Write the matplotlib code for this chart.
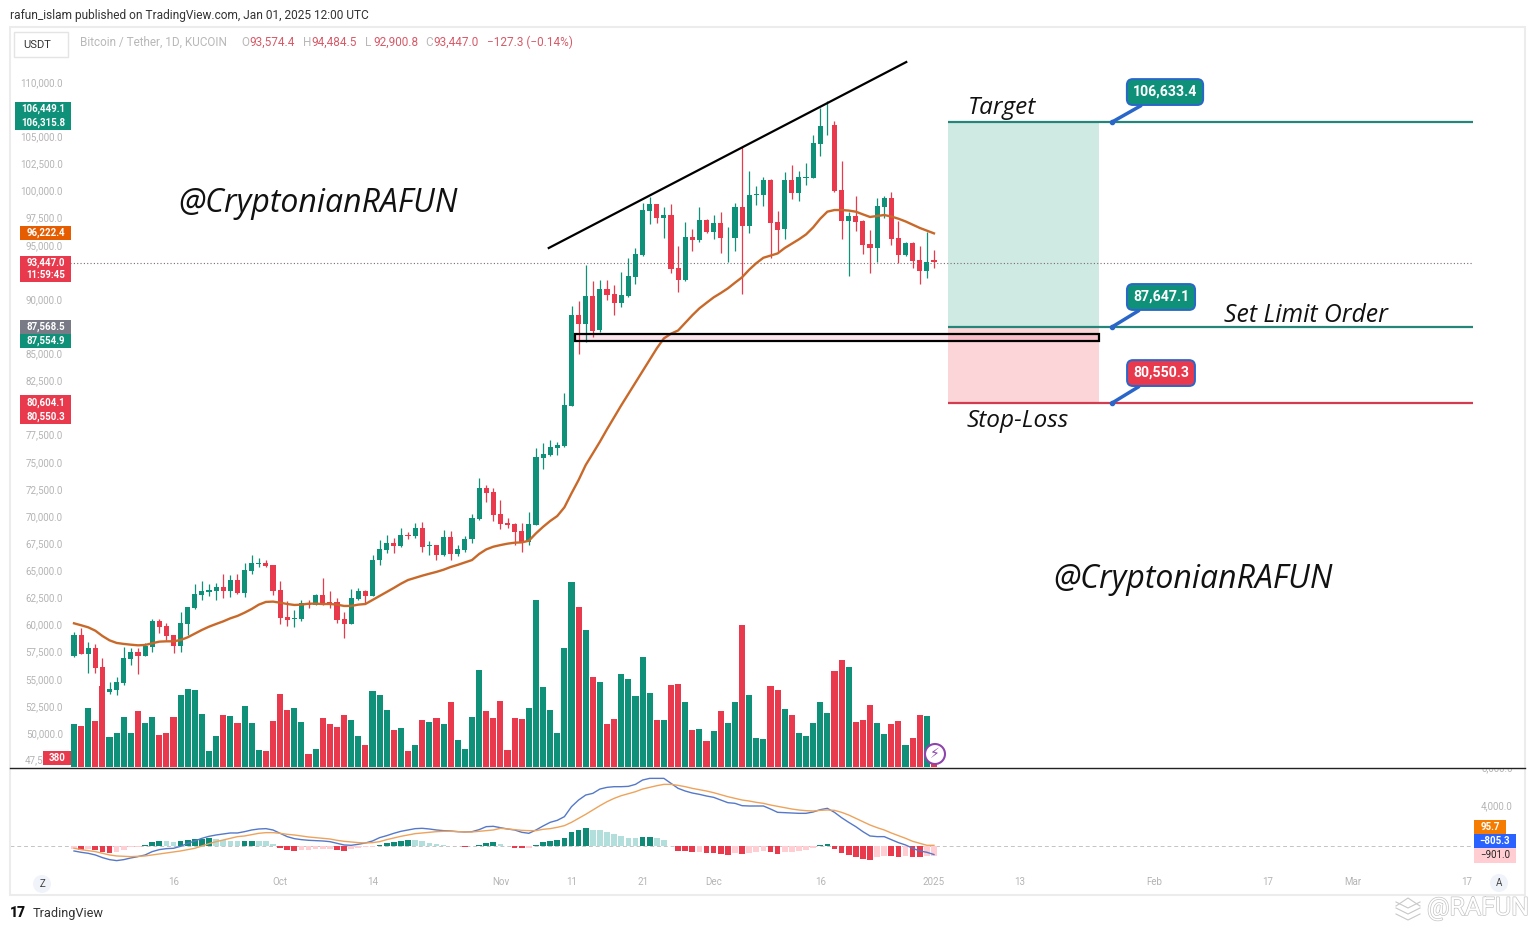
import matplotlib
matplotlib.use("Agg")
import matplotlib.pyplot as plt
import matplotlib.patheffects as pe
from matplotlib.patches import Rectangle, Circle
import numpy as np

plt.rcParams['font.family'] = ['Roboto', 'DejaVu Sans']

# daily candles from 2 Sep 2024, prices in thousands of USDT
opens = [57.1, 59.03, 57.31, 57.81, 56.08, 53.78, 53.97, 54.64, 56.82, 57.47,
         57.13, 57.96, 60.33, 59.86, 59.0, 58.02, 60.05, 61.49, 62.72, 63.03,
         63.09, 63.46, 63.12, 64.1, 62.87, 64.93, 65.58, 65.7, 65.49, 63.15,
         60.69, 60.48, 60.54, 62.0, 61.83, 62.72, 62.05, 62.08, 60.51, 60.05,
         62.38, 63.09, 62.63, 65.94, 66.86, 67.51, 67.26, 68.28, 68.15, 68.89,
         67.23, 67.32, 66.4, 68.03, 66.5, 66.86, 67.85, 69.72, 72.55, 72.18,
         70.15, 69.38, 69.23, 68.61, 67.63, 69.17, 75.34, 75.62, 76.27, 76.48,
         80.14, 88.52, 87.69, 90.27, 87.14, 90.92, 90.46, 89.66, 90.28, 92.06,
         94.05, 98.14, 98.75, 97.49, 97.74, 92.85, 91.75, 95.71, 95.44, 97.28,
         96.2, 97.0, 95.68, 95.65, 98.51, 96.76, 99.55, 99.58, 100.97, 97.06,
         96.42, 100.97, 99.8, 101.18, 101.15, 104.28, 106.0, 106.03, 100.04, 97.22,
         97.65, 97.19, 95.07, 94.7, 98.51, 99.34, 95.62, 94.05, 95.19, 93.59,
         92.61, 93.574]
highs = [59.28, 59.65, 58.36, 58.2, 56.9, 54.73, 55.2, 57.9, 57.87, 57.8,
         58.33, 60.51, 60.48, 60.17, 59.03, 61.15, 61.62, 63.74, 64.0, 63.74,
         63.83, 64.66, 64.56, 64.66, 65.64, 66.41, 66.1, 65.95, 65.49, 63.98,
         62.2, 61.3, 62.3, 62.26, 62.78, 64.29, 63.06, 62.4, 61.12, 63.24,
         63.34, 63.2, 66.4, 67.79, 68.25, 68.0, 68.86, 68.55, 69.32, 69.44,
         67.72, 67.32, 68.7, 68.64, 67.32, 68.15, 70.15, 73.47, 72.85, 72.55,
         71.47, 69.78, 69.32, 69.32, 70.34, 76.23, 76.69, 76.97, 76.85, 81.36,
         89.35, 89.84, 93.13, 91.69, 91.75, 91.75, 91.29, 92.46, 93.75, 94.67,
         98.82, 99.43, 98.75, 98.51, 98.72, 94.88, 97.09, 96.45, 98.51, 97.34,
         97.74, 98.05, 96.66, 98.82, 104.04, 101.8, 100.41, 101.21, 101.03, 98.14,
         101.67, 102.35, 101.8, 102.56, 105.11, 107.57, 108.25, 106.43, 102.75, 98.05,
         99.49, 97.28, 96.36, 99.28, 99.49, 99.83, 97.22, 95.28, 95.28, 94.91,
         96.14, 94.4845]
lows = [56.98, 57.28, 55.5, 55.56, 53.9, 53.6, 53.5, 54.43, 56.27, 55.44,
        57.13, 57.47, 59.25, 58.57, 57.38, 57.5, 59.03, 61.4, 62.26, 62.63,
        62.26, 62.45, 62.5, 62.8, 62.57, 64.66, 65.33, 65.33, 62.72, 60.05,
        59.9, 59.8, 60.36, 61.5, 61.77, 61.8, 61.5, 60.17, 58.79, 60.05,
        62.26, 61.95, 62.6, 65.5, 66.6, 66.6, 67.1, 67.9, 68.0, 66.71,
        66.4, 65.95, 66.3, 65.95, 66.3, 66.71, 67.54, 69.63, 71.32, 69.54,
        68.77, 68.92, 67.32, 66.71, 67.32, 69.17, 74.36, 75.53, 75.62, 76.33,
        80.14, 84.93, 86.06, 86.52, 86.99, 89.91, 88.52, 89.29, 90.21, 91.38,
        93.96, 96.91, 96.97, 95.59, 92.43, 90.67, 91.69, 94.42, 95.28, 96.05,
        95.53, 94.21, 93.44, 94.39, 90.46, 96.11, 98.66, 98.6, 93.75, 94.3,
        95.5, 99.21, 99.06, 100.5, 101.15, 103.21, 105.11, 99.89, 95.53, 92.12,
        96.27, 94.15, 92.36, 93.44, 97.5, 94.97, 93.35, 93.99, 92.89, 91.38,
        91.9, 92.9008]
closes = [59.03, 57.31, 57.81, 56.02, 53.97, 54.06, 54.7, 56.9, 57.47, 57.13,
          58.05, 60.33, 59.77, 58.94, 58.05, 60.11, 61.62, 62.78, 63.09, 63.21,
          63.46, 63.09, 64.1, 62.87, 65.03, 65.67, 65.7, 65.4, 63.12, 60.63,
          60.42, 60.6, 61.95, 61.83, 62.72, 61.89, 61.8, 60.45, 60.08, 62.41,
          63.06, 62.63, 65.94, 66.93, 67.51, 67.26, 68.25, 68.2, 68.86, 67.17,
          67.32, 66.4, 68.03, 66.5, 66.96, 67.85, 69.78, 72.55, 72.15, 70.09,
          69.26, 69.17, 68.55, 67.54, 69.26, 75.43, 75.71, 76.36, 76.54, 80.23,
          88.52, 87.69, 90.27, 87.05, 90.92, 90.4, 89.66, 90.37, 92.12, 94.15,
          98.2, 98.75, 97.46, 97.74, 92.76, 91.75, 95.71, 95.47, 97.28, 96.2,
          97.0, 95.65, 95.74, 98.51, 96.76, 99.58, 99.67, 100.97, 97.03, 96.36,
          100.97, 99.8, 101.21, 101.24, 104.34, 105.94, 106.07, 99.98, 97.22, 97.65,
          97.1, 94.97, 94.7, 98.57, 99.34, 95.53, 94.05, 95.16, 93.53, 92.61,
          93.38, 93.447]
ma_line = [60.11, 59.93, 59.74, 59.43, 58.94, 58.54, 58.3, 58.21, 58.14, 58.08,
           58.11, 58.27, 58.42, 58.45, 58.45, 58.57, 58.82, 59.16, 59.5, 59.8,
           60.05, 60.29, 60.57, 60.79, 61.09, 61.43, 61.83, 62.08, 62.11, 62.01,
           61.89, 61.8, 61.83, 61.92, 61.92, 61.89, 61.89, 61.83, 61.71, 61.71,
           61.83, 61.89, 62.26, 62.63, 63.0, 63.37, 63.76, 64.1, 64.3, 64.5,
           64.68, 64.85, 65.05, 65.3, 65.5, 65.72, 65.94, 66.5, 66.92, 67.17,
           67.32, 67.45, 67.54, 67.57, 67.72, 68.4, 69.0, 69.54, 70.0, 70.8,
           72.09, 73.32, 74.7, 75.77, 76.85, 78.0, 79.1, 80.2, 81.25, 82.3,
           83.35, 84.4, 85.45, 86.37, 86.8, 87.1, 87.8, 88.5, 89.14, 89.65,
           90.15, 90.55, 90.98, 91.5, 92.0, 92.7, 93.3, 93.8, 94.0, 94.2,
           94.7, 95.1, 95.5, 95.95, 96.6, 97.4, 98.05, 98.2, 98.2, 98.15,
           98.05, 97.8, 97.56, 97.65, 97.74, 97.6, 97.4, 97.15, 96.85, 96.55,
           96.3, 96.05]
volumes = [1634, 1558, 2242, 1748, 3078, 1140, 1292, 1900, 1292, 2128,
           1672, 1900, 1216, 1292, 1900, 2736, 2964, 2926, 2014, 608,
           1178, 1976, 1938, 1672, 2318, 1672, 646, 608, 1748, 2774,
           2166, 2242, 1710, 494, 684, 1862, 1634, 1520, 1976, 1786,
           1178, 836, 2888, 2736, 2166, 1406, 1482, 608, 836, 1786,
           1710, 1862, 1634, 2470, 1026, 684, 1900, 3686, 2128, 1862,
           2508, 646, 1862, 1824, 2242, 6346, 3040, 2166, 1292, 4522,
           7030, 6080, 5206, 3420, 3230, 1634, 1824, 3534, 3344, 2698,
           4180, 2812, 1786, 1786, 3116, 3154, 2470, 1406, 1444, 988,
           1368, 2128, 1672, 2470, 5396, 2736, 1102, 1064, 3078, 2926,
           2204, 1976, 1292, 1178, 1672, 2470, 2052, 3648, 4066, 3800,
           1710, 1786, 2356, 1672, 1254, 1634, 1748, 836, 1102, 1976,
           1938, 380]
macd_line = [-455, -585, -683, -845, -1105, -1300, -1398, -1300, -1138, -1008,
             -845, -520, -325, -228, -195, 0, 293, 520, 780, 975,
             1105, 1203, 1300, 1300, 1430, 1593, 1690, 1723, 1593, 1268,
             943, 748, 650, 585, 553, 520, 455, 293, 130, 98,
             195, 325, 520, 845, 1040, 1268, 1463, 1593, 1723, 1755,
             1690, 1593, 1528, 1495, 1430, 1398, 1430, 1625, 1918, 1950,
             1820, 1690, 1593, 1365, 1268, 1593, 1983, 2340, 2535, 2893,
             3868, 4518, 5005, 5168, 5590, 5753, 5818, 5818, 5850, 6045,
             6468, 6630, 6630, 6630, 6143, 5655, 5395, 5200, 5070, 4908,
             4778, 4518, 4258, 4193, 3965, 3933, 3933, 3933, 3640, 3315,
             3283, 3250, 3218, 3218, 3348, 3575, 3705, 3315, 2795, 2340,
             1918, 1430, 1008, 943, 943, 650, 358, 130, -195, -455,
             -585, -805.3]
signal_line = [-195, -325, -423, -520, -683, -845, -943, -975, -1008, -975,
               -943, -845, -748, -650, -553, -455, -325, -195, 33, 260,
               455, 618, 780, 943, 1008, 1138, 1268, 1333, 1333, 1268,
               1170, 1105, 1008, 910, 845, 780, 715, 585, 488, 423,
               358, 325, 358, 455, 650, 813, 975, 1105, 1235, 1300,
               1365, 1430, 1463, 1463, 1430, 1398, 1398, 1463, 1528, 1593,
               1755, 1690, 1625, 1560, 1528, 1528, 1658, 1723, 1853, 2015,
               2340, 2730, 3120, 3543, 3965, 4355, 4680, 4940, 5135, 5330,
               5590, 5753, 5915, 6045, 6045, 5948, 5818, 5655, 5525, 5395,
               5233, 5038, 4843, 4680, 4518, 4420, 4290, 4193, 4030, 3900,
               3770, 3640, 3543, 3478, 3445, 3510, 3543, 3510, 3315, 3055,
               2730, 2405, 2080, 1820, 1593, 1300, 1040, 780, 488, 293,
               98, 95.7]
histogram = [-260, -325, -260, -358, -585, -650, -553, -325, -65, -33,
             98, 423, 520, 520, 390, 488, 585, 715, 748, 845,
             683, 585, 553, 488, 520, 553, 488, 488, 228, -130,
             -325, -423, -390, -390, -293, -260, -260, -325, -423, -293,
             -163, -98, -33, 163, 358, 455, 488, 618, 585, 553,
             358, 260, 163, 65, 33, -33, 33, 98, 325, 390,
             260, 33, -130, -195, -130, 98, 423, 520, 618, 845,
             1398, 1593, 1788, 1593, 1593, 1398, 1235, 1008, 845, 813,
             910, 943, 780, 618, 65, -455, -488, -520, -520, -650,
             -683, -715, -845, -650, -715, -618, -520, -488, -553, -748,
             -553, -520, -455, -325, -130, 130, 228, -228, -618, -845,
             -1040, -1235, -1333, -1073, -910, -943, -1008, -975, -1008, -1040,
             -910, -901]

date_ticks = [14, 29, 42, 60, 70, 80, 90, 105, 121, 133, 152, 168, 180, 196]
date_labels = ['16', 'Oct', '14', 'Nov', '11', '21', 'Dec', '16', '2025', '13', 'Feb', '17', 'Mar', '17']
price_ticks = [50, 52.5, 55, 57.5, 60, 62.5, 65, 67.5, 70, 72.5, 75, 77.5, 82.5, 85,
               90, 95, 97.5, 100, 102.5, 105, 110]

# levels as they sit on the drawn price scale
target_level = 106.31
entry_level = 87.42
stop_level = 80.41
last_level = 93.3
zone_top = 86.75
zone_bottom = 86.15
trend_days = [66.8, 117.1]
trend_prices = [94.7, 111.84]

GREEN = '#0f9179'
RED = '#e8394d'
TICK = '#b4b4b4'

days = np.arange(len(closes))
W, H = 1535, 931

fig = plt.figure(figsize=(W / 100, H / 100), dpi=100, facecolor='white')


def axes_px(left, top, right, bottom):
    return fig.add_axes([left / W, (H - bottom) / H, (right - left) / W, (bottom - top) / H])


ax = axes_px(10, 27, 1525, 767)
ax.set_xlim(-9.005, 204.16)
ax.set_ylim(46.866, 115.069)
for s in ax.spines.values():
    s.set_visible(False)
ax.set_axisbelow(True)
ax.set_yticks(price_ticks)
ax.set_yticklabels([f'{t * 1000:,.0f}.0' for t in price_ticks], fontsize=7, color=TICK)
ax.tick_params(axis='y', length=0, pad=-38)
ax.set_xticks([])

# volume sits on its own scale at the bottom of the price pane
vol = ax.twinx()
vol.set_ylim(0, 740 * 38)
vol.axis('off')
up = np.array(closes) >= np.array(opens)
candle_colors = [GREEN if u else RED for u in up]
vol.bar(days, volumes, width=0.86, color=candle_colors, zorder=1)
vol.set_zorder(1)

price = ax.twinx()
price.set_ylim(ax.get_ylim())
price.axis('off')
price.set_zorder(2)
price.vlines(days, lows, highs, colors=candle_colors, linewidth=0.9, zorder=3)
bottoms = np.minimum(opens, closes)
heights = np.abs(np.array(closes) - np.array(opens))
price.bar(days, heights, bottom=bottoms, width=0.72, color=candle_colors, zorder=4)
price.plot(days, ma_line, color='#c8692a', linewidth=1.7, zorder=5)
price.hlines(last_level, -0.5, 196.8, colors='#7d6a6c', linestyles=(0, (1, 2)), linewidth=0.8, zorder=2)

# long position tool
price.add_patch(Rectangle((123, entry_level), 21.2, target_level - entry_level, facecolor='#cfe9e3', edgecolor='none', zorder=1))
price.add_patch(Rectangle((123, stop_level), 21.2, entry_level - stop_level, facecolor='#fbd5d8', edgecolor='none', zorder=1))
price.hlines([target_level, entry_level], 123, 196.8, colors='#26857a', linewidth=1.6, zorder=6)
price.hlines(stop_level, 123, 196.8, colors='#d23c4e', linewidth=1.6, zorder=6)
price.add_patch(Rectangle((70.5, zone_bottom), 73.7, zone_top - zone_bottom, facecolor='#e91e631c', edgecolor='black', linewidth=1.6, zorder=7))
price.plot(trend_days, trend_prices, color='black', linewidth=1.6, zorder=7)

for level, txt, col, dx in [(target_level, '106,633.4', GREEN, 53),
                            (entry_level, '87,647.1', GREEN, 49),
                            (stop_level, '80,550.3', RED, 49)]:
    price.annotate(txt, xy=(146.05, level), xytext=(dx, 30), textcoords='offset pixels',
                   ha='center', va='center', color='white', fontsize=10.2, fontweight='bold', zorder=9,
                   bbox=dict(boxstyle='round,pad=0.42', facecolor=col, edgecolor='#2a66c9', linewidth=1.4),
                   arrowprops=dict(arrowstyle='-', color='#2a66c9', linewidth=2.5, shrinkA=0, shrinkB=0))
    price.plot([146.05], [level], 'o', color='#2a66c9', markersize=3, zorder=10)

# MACD pane
macd = axes_px(10, 768, 1525, 895)
macd.set_xlim(ax.get_xlim())
macd.set_ylim(-4753, 7642)
for s in macd.spines.values():
    s.set_visible(False)
hist_colors = []
prev = 0
for h in histogram:
    if h >= 0:
        hist_colors.append('#0f8a76' if h > prev else '#b2dfdb')
    else:
        hist_colors.append('#e8394d' if h < prev else '#ffcdd2')
    prev = h
hist_colors[0] = '#ffcdd2'
macd.axhline(0, color='#c4c4c4', linewidth=0.7, linestyle=(0, (4, 3)), xmax=0.965)
macd.bar(days, histogram, width=0.8, color=hist_colors, zorder=2)
macd.plot(days, macd_line, color='#5579c8', linewidth=1.0, zorder=3)
macd.plot(days, signal_line, color='#eda35c', linewidth=1.0, zorder=3)
macd.set_xticks(date_ticks)
macd.set_xticklabels(date_labels, fontsize=7, color=TICK)
macd.tick_params(axis='x', length=0, pad=-13)
macd.yaxis.tick_right()
macd.set_yticks([4000])
macd.set_yticklabels(['4,000.0'], fontsize=7, color=TICK)
macd.tick_params(axis='y', length=0, pad=-32)
macd.text(0.971, 7650, '8,000.0', transform=macd.get_yaxis_transform(), fontsize=7, color=TICK,
          ha='left', va='center', clip_on=True)

# page furniture in pixel coordinates
px = fig.add_axes([0, 0, 1, 1], facecolor='none', zorder=20)
px.set_xlim(0, W)
px.set_ylim(H, 0)
px.axis('off')

px.add_patch(Rectangle((10, 27), 1515, 868, fill=False, edgecolor='#ececec', linewidth=1.5))
px.plot([10, 1525], [767.5, 767.5], color='#222222', linewidth=1)


def tag(left, top, right, bottom, txt, bg, fg='white', weight='bold'):
    px.add_patch(Rectangle((left, top), right - left, bottom - top, facecolor=bg, edgecolor='none'))
    px.text((left + right) / 2, (top + bottom) / 2, txt, color=fg, fontsize=7, fontweight=weight,
            ha='center', va='center')


tag(15, 102, 71, 116, '106,449.1', GREEN)
tag(15, 116, 71, 130, '106,315.8', GREEN)
tag(20, 226, 71, 240, '96,222.4', '#e65c00')
tag(20, 256, 71, 269, '93,447.0', RED)
tag(20, 269, 71, 282, '11:59:45', RED)
tag(20, 320, 71, 334, '87,568.5', '#787b86')
tag(20, 334, 71, 348, '87,554.9', GREEN)
tag(20, 395, 71, 410, '80,604.1', RED)
tag(20, 410, 71, 424, '80,550.3', RED)
tag(43, 751, 71, 765, '380', RED)
tag(1474, 820, 1506, 834, '95.7', '#f57c00')
tag(1474, 834, 1516, 848, '\u2212805.3', '#2962ff')
tag(1474, 848, 1516, 863, '\u2212901.0', '#ffcdd2', fg='#222222', weight='normal')
px.text(25, 760, '47,5', fontsize=7, color=TICK, va='center')

px.text(10, 15, 'rafun_islam published on TradingView.com, Jan 01, 2025 12:00 UTC', fontsize=8.6,
        color='#333333', va='center')
px.add_patch(Rectangle((14, 32), 54, 25, facecolor='white', edgecolor='#e4e4e4', linewidth=1))
px.text(37, 45, 'USDT', fontsize=8, color='#333333', ha='center', va='center')
px.text(80, 42, 'Bitcoin / Tether, 1D, KUCOIN', fontsize=8.5, color='#b8b8b8', va='center')
for x, head, val in [(241, 'O', '93,574.4'), (303, 'H', '94,484.5'), (365, 'L', '92,900.8'), (425, 'C', '93,447.0')]:
    px.text(x, 42, head, fontsize=8.5, color='#b8b8b8', va='center')
    px.text(x + 8, 42, val, fontsize=8.5, color='#d65a68', va='center')
px.text(487, 42, '\u2212127.3 (\u22120.14%)', fontsize=8.5, color='#d65a68', va='center')

for x, y, txt, size in [(178, 203, '@CryptonianRAFUN', 23), (1053, 580, '@CryptonianRAFUN', 23),
                        (968, 108, 'Target', 17.5), (1224, 316, 'Set Limit Order', 17.8), (967, 421, 'Stop-Loss', 17.6)]:
    px.text(x, y, txt, family=['Open Sans', 'DejaVu Sans'], style='italic', fontsize=size, color='#111111', va='center')

for x, y, letter in [(42, 884, 'Z'), (1499, 883, 'A')]:
    px.add_patch(Circle((x, y), 9, facecolor='#f0f3fa', edgecolor='none'))
    px.text(x, y, letter, fontsize=7, color='#444444', ha='center', va='center')
px.add_patch(Circle((935, 754), 10, facecolor='white', edgecolor='#8e44ad', linewidth=1.5))
px.text(935, 754, '\u26a1', family=['DejaVu Sans'], fontsize=10, color='#8e44ad', ha='center', va='center')

px.text(10, 913, '17', fontsize=10, fontweight='black', color='#111111', va='center')
px.text(33, 913, 'TradingView', fontsize=9.2, color='#333333', va='center')

px.text(1427, 908, '@RAFUN', fontsize=18, color='white', va='center',
        path_effects=[pe.withStroke(linewidth=1, foreground='#c4c4c4')])
for dy in [0, 6, 12]:
    px.plot([1396, 1408, 1420], [902 + dy, 908 + dy, 902 + dy], color='#c8c8c8', linewidth=0.8)
px.plot([1396, 1408, 1420], [906, 898, 906], color='#c8c8c8', linewidth=0.8)

fig.savefig('out.png', dpi=100)
